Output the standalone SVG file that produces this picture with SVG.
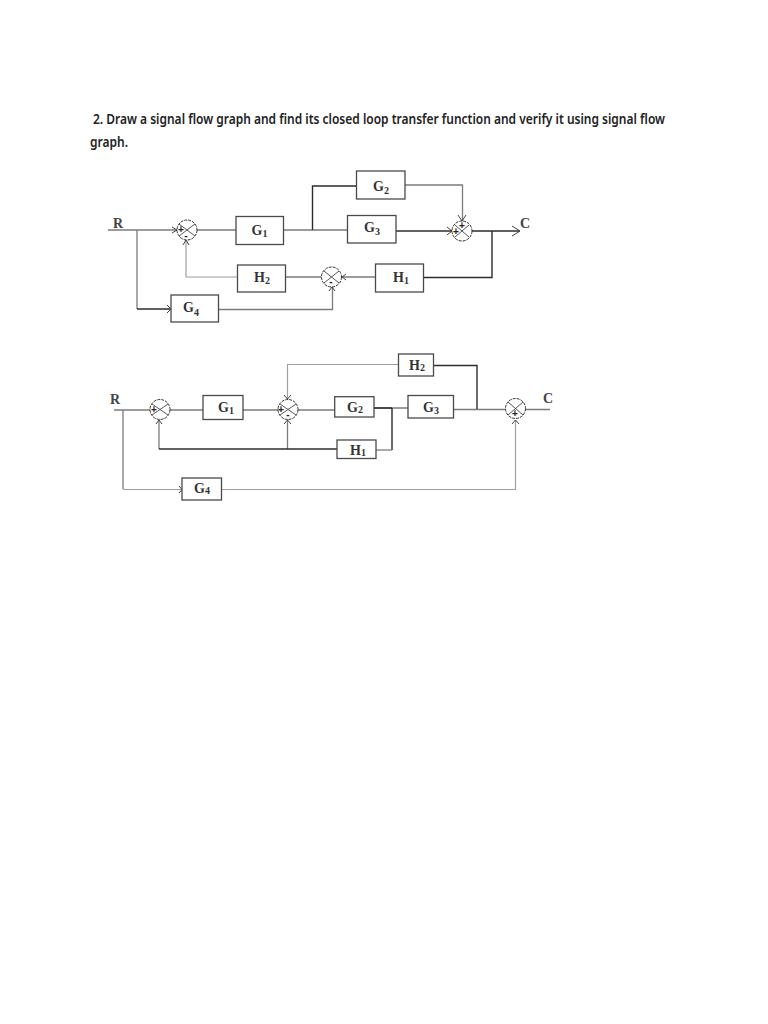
<svg xmlns="http://www.w3.org/2000/svg" width="768" height="1024" viewBox="0 0 768 1024">
<style>
.q{font-family:"Noto Sans","Open Sans",sans-serif;font-size:14px;font-weight:600;fill:#222}
.l{font-family:"Liberation Serif",serif;font-weight:700;font-size:14px;fill:#333;text-anchor:middle}
.s{font-size:10px}
.b{fill:#fff;stroke:#4a4a4a;stroke-width:1.3}
.w{fill:none;stroke:#7c7c7c;stroke-width:1.3}
.d{fill:none;stroke:#2c2c2c;stroke-width:1.4}
.lt{fill:none;stroke:#a0a0a0;stroke-width:1.2}
.c{fill:#fff;stroke:#333;stroke-width:1;stroke-dasharray:3 1}
.x{fill:none;stroke:#444;stroke-width:.9}
.a{fill:none;stroke:#444;stroke-width:1}
.sign{font-family:"Liberation Sans",sans-serif;font-weight:700;font-size:10px;fill:#222;text-anchor:middle}
.t{font-family:"Liberation Serif",serif;font-weight:700;font-size:14px;fill:#444}
</style>
<text class="q" x="93" y="124" textLength="572" lengthAdjust="spacingAndGlyphs">2. Draw a signal flow graph and find its closed loop transfer function and verify it using signal flow</text>
<text class="q" x="90" y="147" textLength="38" lengthAdjust="spacingAndGlyphs">graph.</text>

<g id="connectors">
<path class="w" d="M108 230H177M197 230H236M283 230H348"/>
<path class="d" d="M312.500 230V186H357"/>
<path class="w" d="M405 185H462.500V221"/>
<path class="d" d="M396 231H452"/>
<path class="d" d="M472 231H520M492 231V277.500H423"/>
<path class="a" d="M512 226L520 231L512 236"/>
<path class="w" d="M137 230V309"/>
<path class="d" d="M137 309H171"/>
<path class="a" d="M167 305L171 309L167 313"/>
<path class="lt" d="M237 277H186V240"/>
<path class="w" d="M285 277H321M375 277H342"/>
<path class="w" d="M218 309.500H332.500V287"/>
<path class="a" d="M342 277L346 274M342 277L346 280M332 287L329 291M332 287L335 291M186 240L183 245M186 240L189 245M177 230L172 227M177 230L172 233M462 221L458 215M462 221L466 215M452 231L447 227M452 231L447 235"/>

<path class="w" d="M114 410H150M170 410H203M243 410H278M298 410H335M374 408H408M453 409.500H505M525 409.500H550"/>
<path class="d" d="M374 408H392M392 408V450"/>
<path class="w" d="M376 450H392"/>
<path class="lt" d="M398.500 364.500H287.500V399"/>
<path class="d" d="M433.500 365.500H477V409"/>
<path class="w" d="M123 410V489"/>
<path class="w" d="M159 420V449M287.500 420V449"/>
<path class="d" d="M159 449H337"/>
<path class="lt" d="M123 489.500H182M221.500 489.500H515.500V420"/>
<path class="a" d="M179 486L182 489.500L179 493M287.500 399L284 395M287.500 399L291 395M287.500 420L284 424M287.500 420L291 424M159 420L156 424M159 420L162 424M515.500 420L512 424M515.500 420L519 424"/>
</g>

<g id="R1"><text class="t" x="113" y="228">R</text></g>
<g id="C1"><text class="t" x="520" y="228">C</text></g>
<g id="sum1"><circle class="c" cx="187" cy="230" r="10"/><path class="x" d="M179 224L195 236M179 236L195 224"/><text class="sign" x="186" y="239">-</text><text class="sign" x="181" y="233">+</text></g>
<g id="sum2"><circle class="c" cx="462" cy="231" r="10"/><path class="x" d="M455 225L469 237M455 237L469 225"/><text class="sign" x="456" y="235">+</text><text class="sign" x="462" y="229">+</text></g>
<g id="sum3"><circle class="c" cx="331.500" cy="277" r="10"/><path class="x" d="M324 271L339 283M324 283L339 271"/><text class="sign" x="331" y="285">-</text></g>
<g id="G1a"><rect class="b" x="236" y="216.500" width="47.500" height="28"/><text class="l" x="259.500" y="235">G<tspan class="s" dy="2">1</tspan></text></g>
<g id="G2a"><rect class="b" x="356.500" y="171" width="48.500" height="28"/><text class="l" x="381" y="191">G<tspan class="s" dy="3">2</tspan></text></g>
<g id="G3a"><rect class="b" x="347.500" y="215.500" width="48.500" height="27.500"/><text class="l" x="372" y="232">G<tspan class="s" dy="3">3</tspan></text></g>
<g id="H1a"><rect class="b" x="375.500" y="264" width="48" height="28"/><text class="l" x="401" y="282">H<tspan class="s" dy="2">1</tspan></text></g>
<g id="H2a"><rect class="b" x="237.500" y="265" width="48" height="27"/><text class="l" x="262" y="282">H<tspan class="s" dy="2">2</tspan></text></g>
<g id="G4a"><rect class="b" x="171" y="295" width="47.500" height="27"/><text class="l" x="191" y="312">G<tspan class="s" dy="4">4</tspan></text></g>

<g id="R2"><text class="t" x="110" y="404">R</text></g>
<g id="C2"><text class="t" x="543" y="403">C</text></g>
<g id="sum4"><circle class="c" cx="160" cy="409.500" r="10"/><path class="x" d="M152 404L168 415M152 415L168 404"/><text class="sign" x="154" y="413">+</text></g>
<g id="sum5"><circle class="c" cx="288" cy="409.500" r="10"/><path class="x" d="M280 404L296 415M280 415L296 404"/><text class="sign" x="281" y="413">+</text><text class="sign" x="288" y="418">-</text></g>
<g id="sum6"><circle class="c" cx="515.500" cy="408.500" r="10"/><path class="x" d="M508 402L523 415M508 415L523 402"/><text class="sign" x="515" y="417">+</text></g>
<g id="G1b"><rect class="b" x="203" y="395.500" width="40" height="24"/><text class="l" x="226" y="412">G<tspan class="s" dy="2">1</tspan></text></g>
<g id="G2b"><rect class="b" x="334.700" y="396.700" width="39.300" height="20.300"/><text class="l" x="355" y="412">G<tspan class="s" dy="1">2</tspan></text></g>
<g id="G3b"><rect class="b" x="408" y="395.500" width="45.500" height="22.500"/><text class="l" x="431" y="412">G<tspan class="s" dy="2">3</tspan></text></g>
<g id="H2b"><rect class="b" x="398.500" y="354" width="35" height="22"/><text class="l" x="417" y="370">H<tspan class="s" dy="1">2</tspan></text></g>
<g id="H1b"><rect class="b" x="337" y="440" width="39" height="18.500"/><text class="l" x="358" y="455">H<tspan class="s" dy="1">1</tspan></text></g>
<g id="G4b"><rect class="b" x="182" y="478" width="39.500" height="22"/><text class="l" x="202" y="493">G<tspan class="s" dy="1">4</tspan></text></g>
</svg>
